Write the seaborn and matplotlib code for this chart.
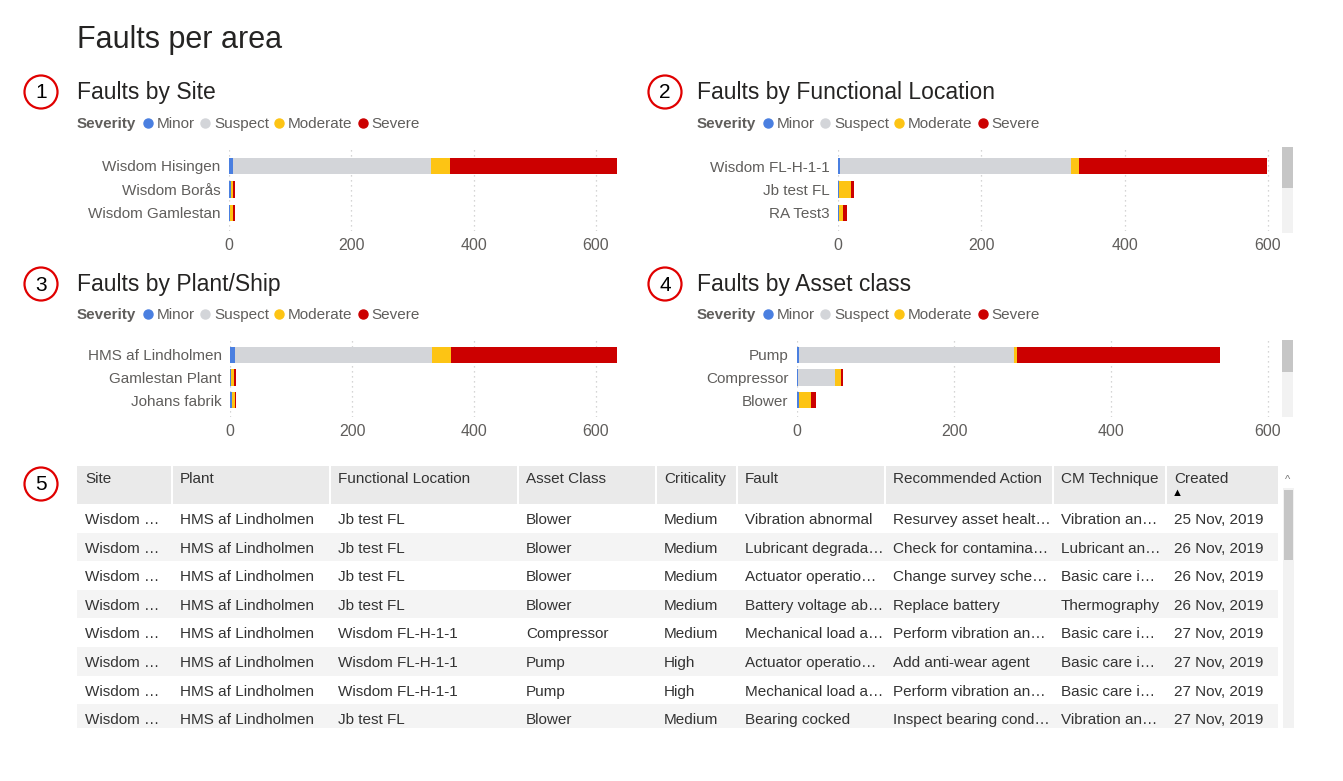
import numpy as np
import pandas as pd
import matplotlib.pyplot as plt
import seaborn as sns
from matplotlib.patches import Ellipse, Rectangle
from matplotlib.lines import Line2D

sns.set_style("white")
plt.rcParams['font.family'] = ['Liberation Sans', 'DejaVu Sans']

W, H = 1343, 781

# severity categories and colours
severity = ["Minor", "Suspect", "Moderate", "Severe"]
sev_colors = ["#4A7FE0", "#D3D5D9", "#FDC414", "#CC0000"]

# faults by site
site_names = ["Wisdom Hisingen", "Wisdom Borås", "Wisdom Gamlestan"]
site_minor = [7, 3, 1]
site_suspect = [324, 0, 0]
site_moderate = [31, 4, 5]
site_severe = [272, 2, 4]

# faults by functional location
fl_names = ["Wisdom FL-H-1-1", "Jb test FL", "RA Test3"]
fl_minor = [3, 2, 2]
fl_suspect = [322, 0, 0]
fl_moderate = [11, 16, 5]
fl_severe = [263, 4, 5]

# faults by plant/ship
plant_names = ["HMS af Lindholmen", "Gamlestan Plant", "Johans fabrik"]
plant_minor = [8, 1, 4]
plant_suspect = [323, 0, 0]
plant_moderate = [31, 5, 5]
plant_severe = [272, 4, 1]

# faults by asset class
asset_names = ["Pump", "Compressor", "Blower"]
asset_minor = [2, 1, 2]
asset_suspect = [275, 48, 0]
asset_moderate = [3, 7, 16]
asset_severe = [259, 3, 6]

x_ticks = [0, 200, 400, 600]

# table
table_cols = ["Site", "Plant", "Functional Location", "Asset Class", "Criticality",
              "Fault", "Recommended Action", "CM Technique", "Created"]
t_site = ["Wisdom …", "Wisdom …", "Wisdom …", "Wisdom …", "Wisdom …", "Wisdom …", "Wisdom …", "Wisdom …"]
t_plant = ["HMS af Lindholmen", "HMS af Lindholmen", "HMS af Lindholmen", "HMS af Lindholmen",
           "HMS af Lindholmen", "HMS af Lindholmen", "HMS af Lindholmen", "HMS af Lindholmen"]
t_fl = ["Jb test FL", "Jb test FL", "Jb test FL", "Jb test FL",
        "Wisdom FL-H-1-1", "Wisdom FL-H-1-1", "Wisdom FL-H-1-1", "Jb test FL"]
t_asset = ["Blower", "Blower", "Blower", "Blower", "Compressor", "Pump", "Pump", "Blower"]
t_crit = ["Medium", "Medium", "Medium", "Medium", "Medium", "High", "High", "Medium"]
t_fault = ["Vibration abnormal", "Lubricant degrada…", "Actuator operatio…", "Battery voltage ab…",
           "Mechanical load a…", "Actuator operatio…", "Mechanical load a…", "Bearing cocked"]
t_action = ["Resurvey asset healt…", "Check for contamina…", "Change survey sche…", "Replace battery",
            "Perform vibration an…", "Add anti-wear agent", "Perform vibration an…", "Inspect bearing cond…"]
t_cm = ["Vibration an…", "Lubricant an…", "Basic care i…", "Thermography",
        "Basic care i…", "Basic care i…", "Basic care i…", "Vibration an…"]
t_created = ["25 Nov, 2019", "26 Nov, 2019", "26 Nov, 2019", "26 Nov, 2019",
             "27 Nov, 2019", "27 Nov, 2019", "27 Nov, 2019", "27 Nov, 2019"]

TXT = "#252423"
GREY = "#605E5C"

fig = plt.figure(figsize=(W / 100, H / 100), dpi=100)
fig.patch.set_facecolor("white")


def px_axes(x0, y0, x1, y1):
    return fig.add_axes([x0 / W, 1 - y1 / H, (x1 - x0) / W, (y1 - y0) / H])


def fx(x):
    return x / W


def fy(y):
    return 1 - y / H


def stacked(ax, names, minor, suspect, moderate, severe, xmax):
    df = pd.DataFrame({"name": names, "Minor": minor, "Suspect": suspect,
                       "Moderate": moderate, "Severe": severe})
    cum = df[severity].cumsum(axis=1)
    for sev, col in reversed(list(zip(severity, sev_colors))):
        sns.barplot(x=cum[sev], y=df["name"], orient="h", color=col, saturation=1,
                    width=0.72, errorbar=None, linewidth=0, ax=ax)
    ax.set_xlim(0, xmax)
    ax.set_ylim(2.75, -0.75)
    ax.set_xticks(x_ticks)
    ax.set_xlabel("")
    ax.set_ylabel("")
    ax.grid(axis="x", linestyle=(0, (1, 3)), color="#C8C8C8", lw=0.9)
    ax.set_axisbelow(True)
    ax.tick_params(axis="x", length=0, pad=5, labelsize=11.5, labelcolor=GREY)
    ax.tick_params(axis="y", length=0, pad=6, labelsize=11, labelcolor=GREY)
    sns.despine(ax=ax, left=True, bottom=True)


def header(num, cx, cy, title, tx, ly):
    fig.add_artist(Ellipse((fx(cx), fy(cy)), 33 / W, 33 / H, transform=fig.transFigure,
                           fc="white", ec="#E00000", lw=1.6))
    fig.text(fx(cx), fy(cy + 1), str(num), ha="center", va="center", fontsize=15, color="black")
    if title:
        fig.text(fx(tx), fy(cy), title, ha="left", va="center", fontsize=16.5, color=TXT)
        fig.text(fx(tx), fy(ly), "Severity", ha="left", va="center", fontsize=11,
                 fontweight="bold", color=GREY)
        handles = [Line2D([], [], marker="o", linestyle="none", markersize=6.5, color=c)
                   for c in sev_colors]
        leg = fig.legend(handles, severity, loc="center left", ncol=4, frameon=False,
                         bbox_to_anchor=(fx(tx + 66), fy(ly)), bbox_transform=fig.transFigure,
                         fontsize=11, handlelength=0.6, handletextpad=0.3, columnspacing=0.35,
                         borderpad=0, borderaxespad=0)
        for t in leg.get_texts():
            t.set_color(GREY)


fig.text(fx(77), fy(40), "Faults per area", ha="left", va="center", fontsize=22, color=TXT)

header(1, 41, 92, "Faults by Site", 77, 124)
header(2, 665, 92, "Faults by Functional Location", 697, 124)
header(3, 41, 284, "Faults by Plant/Ship", 77, 315)
header(4, 665, 284, "Faults by Asset class", 697, 315)
header(5, 41, 484, None, 0, 0)

ax1 = px_axes(229, 166 - 0.75 * 23.5, 229 + 650 * 0.6117, 213 + 0.75 * 23.5)
stacked(ax1, site_names, site_minor, site_suspect, site_moderate, site_severe, 650)

ax2 = px_axes(838, 166 - 0.75 * 23.5, 838 + 610 * 0.7167, 213 + 0.75 * 23.5)
stacked(ax2, fl_names, fl_minor, fl_suspect, fl_moderate, fl_severe, 610)

ax3 = px_axes(230, 355 - 0.75 * 22.5, 230 + 650 * 0.61, 400 + 0.75 * 22.5)
stacked(ax3, plant_names, plant_minor, plant_suspect, plant_moderate, plant_severe, 650)

ax4 = px_axes(797, 355 - 0.75 * 22.5, 797 + 610 * 0.785, 400 + 0.75 * 22.5)
stacked(ax4, asset_names, asset_minor, asset_suspect, asset_moderate, asset_severe, 610)


def scrollbar(x0, y0, y1, thumb_end):
    fig.add_artist(Rectangle((fx(x0), fy(y1)), 11 / W, (y1 - y0) / H, transform=fig.transFigure,
                             fc="#F2F2F2", ec="none"))
    fig.add_artist(Rectangle((fx(x0), fy(thumb_end)), 11 / W, (thumb_end - y0) / H,
                             transform=fig.transFigure, fc="#C6C6C6", ec="none"))


scrollbar(1282, 147, 233, 188)
scrollbar(1282, 340, 417, 372)

# table
row_h = 28.6
col_edges = [77, 172, 330, 518, 656, 737, 885, 1053, 1166, 1278]
axt = px_axes(77, 466, 1278, 728)
top = -38 / row_h
bottom = (728 - 504) / row_h
axt.set_xlim(77, 1278)
axt.set_ylim(bottom, top)
axt.axis("off")
axt.axhspan(top, 0, color="#EAEAEA", lw=0)
table_data = [t_site, t_plant, t_fl, t_asset, t_crit, t_fault, t_action, t_cm, t_created]
n_rows = len(t_site)
for i in range(n_rows):
    if i % 2 == 1:
        axt.axhspan(i, i + 1, color="#F4F4F4", lw=0)
for e in col_edges[1:-1]:
    axt.plot([e, e], [top, 0], color="white", lw=1.5)
for j, name in enumerate(table_cols):
    axt.text(col_edges[j] + 8, -0.87, name, ha="left", va="center", fontsize=11, color="#333333")
    for i in range(n_rows):
        axt.text(col_edges[j] + 8, i + 0.56, table_data[j][i], ha="left", va="center",
                 fontsize=11, color="#333333", clip_on=True)
axt.text(col_edges[8] + 11, -0.37, "▲", ha="center", va="center", fontsize=8, color="black")

fig.add_artist(Rectangle((fx(1283), fy(728)), 11 / W, (728 - 488) / H, transform=fig.transFigure,
                         fc="#F2F2F2", ec="none"))
fig.add_artist(Rectangle((fx(1284), fy(560)), 9 / W, (560 - 490) / H, transform=fig.transFigure,
                         fc="#C6C6C6", ec="none"))
fig.text(fx(1288), fy(480), "^", ha="center", va="center", fontsize=8, color="#777777")

fig.savefig("out.png", dpi=100)
